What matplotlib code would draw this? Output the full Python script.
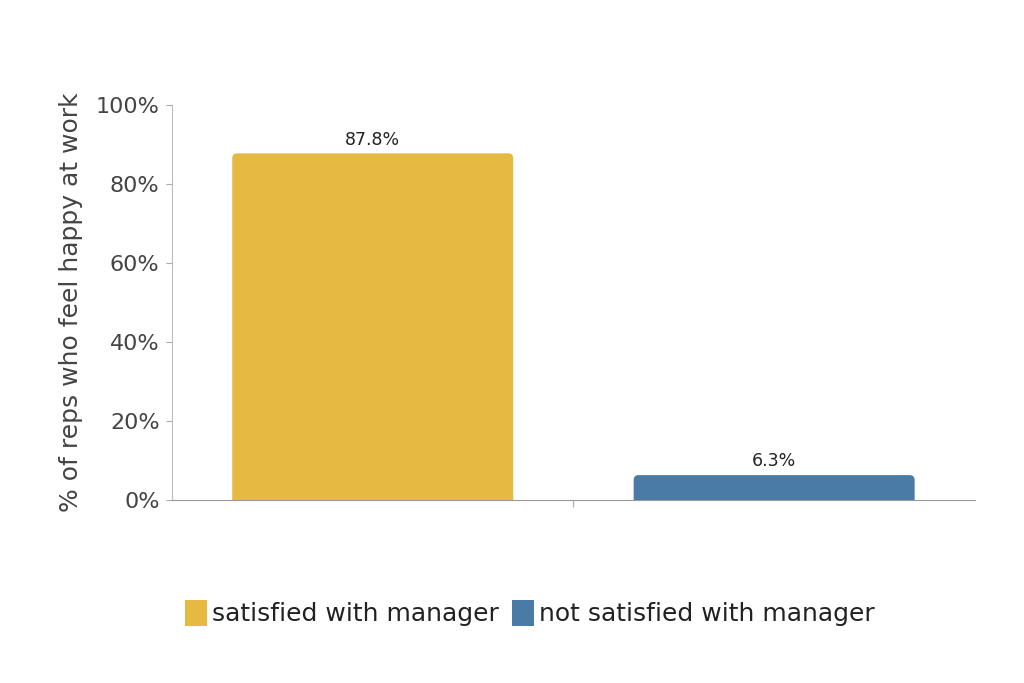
import matplotlib
matplotlib.use('Agg')
import matplotlib.pyplot as plt
from matplotlib.patches import FancyBboxPatch, Patch

# data
series = ['satisfied with manager', 'not satisfied with manager']
values = [87.8, 6.3]
colors = ['#E5B942', '#4A7BA7']
yticks = [0, 20, 40, 60, 80, 100]

plt.rcParams['font.family'] = ['DejaVu Sans']

fig = plt.figure(figsize=(10.24, 6.83), dpi=100)
ax = fig.add_axes([0.168, 0.268, 0.784, 0.578])

bars = ax.bar(range(len(values)), values, width=0.7, color=colors)

# swap the plain bars for ones with rounded tops
for b, c in zip(bars, colors):
    b.set_visible(False)
    x, w, h = b.get_x(), b.get_width(), b.get_height()
    rounded = FancyBboxPatch((x, -5), w, h + 5,
                             boxstyle='round,pad=0,rounding_size=0.0125',
                             mutation_aspect=100, facecolor=c, edgecolor='none')
    ax.add_patch(rounded)

for i, v in enumerate(values):
    ax.text(i, v + 1.2, f'{v}%', ha='center', va='bottom', fontsize=12.5, color='#222222')

ax.set_xlim(-0.5, 1.5)
ax.set_ylim(0, 100)
ax.set_yticks(yticks)
ax.set_yticklabels([f'{t}%' for t in yticks], fontsize=16, color='#444444')
ax.set_xticks([0.5])
ax.set_xticklabels([''])
ax.tick_params(axis='x', length=5, color='#aaaaaa')
ax.tick_params(axis='y', length=4, color='#aaaaaa', pad=5)
ax.set_ylabel('% of reps who feel happy at work', fontsize=18, color='#444444', labelpad=9)

for s in ['top', 'right']:
    ax.spines[s].set_visible(False)
ax.spines['left'].set_color('#bbbbbb')
ax.spines['bottom'].set_color('#999999')

handles = [Patch(facecolor=c, edgecolor='none', label=s) for s, c in zip(series, colors)]
fig.legend(handles=handles, loc='center', bbox_to_anchor=(530 / 1024, 1 - 613 / 683),
           ncol=2, frameon=False, fontsize=18, handlelength=0.9, handleheight=1.2,
           handletextpad=0.2, columnspacing=0.5, labelcolor='#222222')

plt.savefig('out.png', dpi=100)
